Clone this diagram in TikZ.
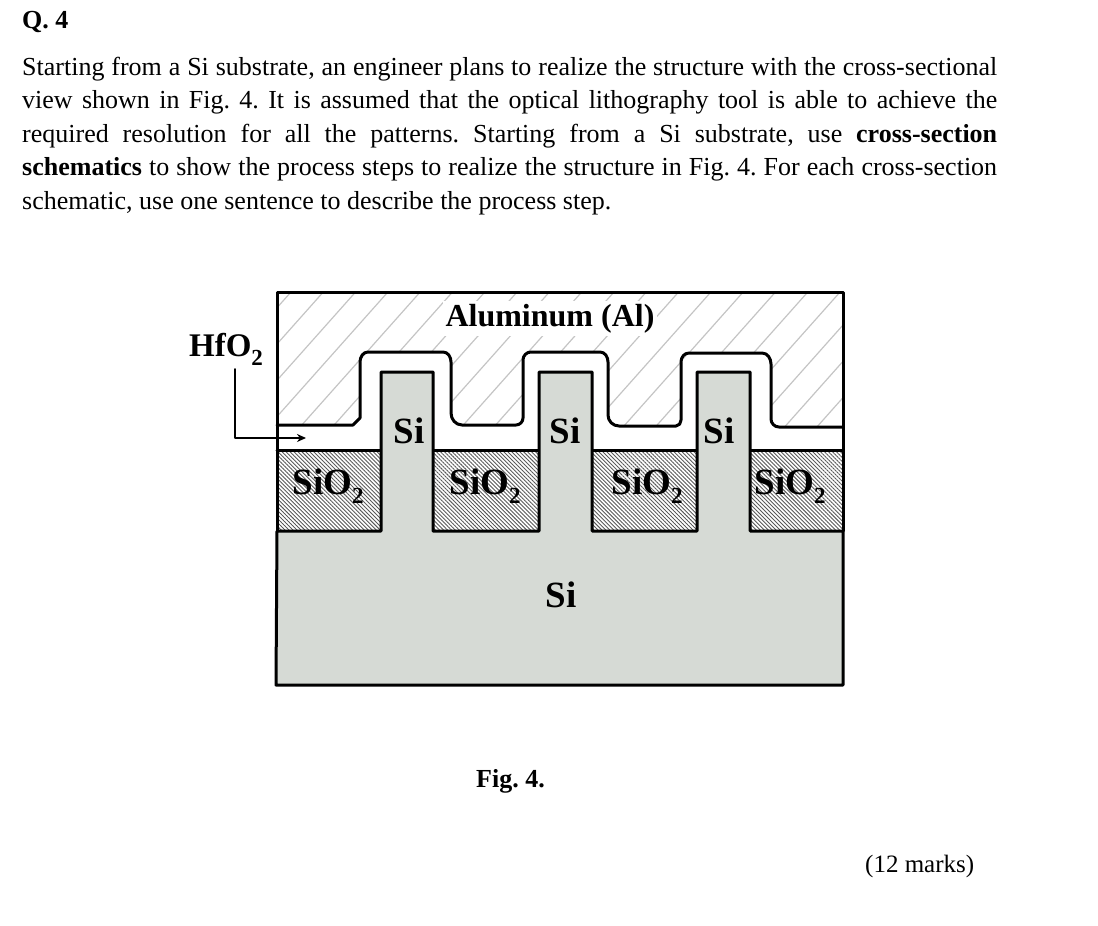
\documentclass[tikz,border=0pt]{standalone}
\usepackage{fontspec}
\setmainfont{Liberation Serif}
\frenchspacing
\usetikzlibrary{arrows.meta,patterns.meta}
\definecolor{sigray}{HTML}{D6DAD5}
\definecolor{hatchgray}{HTML}{C4C4C4}
\newcommand{\bodyline}[1]{\makebox[975pt][s]{#1}}
\newcommand{\subtwo}{\raisebox{-9pt}{\fontsize{23}{23}\selectfont 2}}
\tikzset{
	bodytext/.style={anchor=base west,inner sep=0pt,font=\fontsize{26}{33}\selectfont},
	boldtext/.style={anchor=base west,inner sep=0pt,font=\fontsize{26}{33}\selectfont\bfseries},
	layerlabel/.style={anchor=base,inner sep=0pt,font=\fontsize{37}{40}\selectfont\bfseries},
	hatchline/.style={line width=1.2pt,color=hatchgray},
	oxide/.style={pattern={Lines[angle=-45,distance=2.8pt,line width=.9pt]},pattern color=black!65},
}
\begin{document}
\begin{tikzpicture}[line cap=round,line join=round,>={Stealth[length=9pt,width=8pt]},x=1pt,y=-1pt]
	\useasboundingbox (0,0) rectangle (1098,926);
	\node[boldtext] (qnum) at (22,28) {Q. 4};
	\node[bodytext] (lineone) at (22,75) {\bodyline{Starting from a Si substrate, an engineer plans to realize the structure with the cross-sectional}};
	\node[bodytext] (linetwo) at (22,108.5) {\bodyline{view shown in Fig. 4. It is assumed that the optical lithography tool is able to achieve the}};
	\node[bodytext] (linethree) at (22,142) {\bodyline{required resolution for all the patterns. Starting from a Si substrate, use \textbf{cross-section}}};
	\node[bodytext] (linefour) at (22,175) {\bodyline{\textbf{schematics} to show the process steps to realize the structure in Fig. 4. For each cross-section}};
	\node[bodytext] (linefive) at (22,209) {schematic, use one sentence to describe the process step.};
	\begin{scope}
		\clip (277,292) -- (843,292) -- (843,427) -- (779,427) -- (771,419) -- (771,364) -- (762,353) -- (689,353) -- (681,362) -- (681,420) -- (676,426) -- (619,426) -- (608,415) -- (608,362) -- (600,352) -- (531,352) -- (523,360) -- (523,418) -- (516,425) -- (462,425) -- (451,413) -- (451,362) -- (443,352) -- (368,352) -- (360,362) -- (360,418) -- (353,425) -- (277,425) -- cycle;
		\foreach \n in {0,...,21}
			\draw[hatchline] ({291+32.3*\n},292) -- ++(-178,200);
	\end{scope}
	\draw [line width=3pt] (277,425) -- (353,425) -- (360,418) -- (360,362) to[out=90,in=180] (368,352) -- (443,352) to[out=0,in=90] (451,362) -- (451,413) to[out=-90,in=180] (462,425) -- (516,425) to[out=0,in=-90] (523,418) -- (523,360) to[out=90,in=180] (531,352) -- (600,352) to[out=0,in=90] (608,362) -- (608,415) to[out=-90,in=180] (619,426) -- (676,426) to[out=0,in=-90] (681,420) -- (681,362) to[out=90,in=180] (689,353) -- (762,353) to[out=0,in=90] (771,364) -- (771,419) to[out=-90,in=180] (779,427) -- (843,427);
	\fill[oxide] (277,450) rectangle (381,531);
	\fill[oxide] (433,450) rectangle (539,531);
	\fill[oxide] (592,450) rectangle (697,531);
	\fill[oxide] (750,450) rectangle (843,531);
	\draw [line width=3pt] (277,450) -- (381,450);
	\draw [line width=3pt] (433,450) -- (539,450);
	\draw [line width=3pt] (592,450) -- (697,450);
	\draw [line width=3pt] (750,450) -- (843,450);
	\draw [line width=3pt,fill=sigray] (277,531) -- (381,531) -- (381,372) -- (433,372) -- (433,531) -- (539,531) -- (539,372) -- (592,372) -- (592,531) -- (697,531) -- (697,372) -- (750,372) -- (750,531) -- (843,531) -- (843,685) -- (276,685) -- cycle;
	\draw [line width=3pt] (277,531) -- (277,292) -- (843,292) -- (843,531);
	\node[layerlabel,font=\fontsize{32}{36}\selectfont\bfseries,fill=white,inner sep=3pt] (altext) at (550,326) {Aluminum (Al)};
	\node[layerlabel,font=\fontsize{33}{36}\selectfont\bfseries] (hfotext) at (226,356) {HfO\subtwo};
	\coordinate (hfofoot) at (235,369);
	\coordinate (hfotip) at (306,438);
	\draw [->,line width=2pt] (hfofoot) |- (hfotip);
	\node[layerlabel] (sione) at (409,443) {Si};
	\node[layerlabel] (sitwo) at (565,443) {Si};
	\node[layerlabel] (sithree) at (719,443) {Si};
	\node[layerlabel] (sibase) at (561,607) {Si};
	\node[layerlabel] (oxone) at (328,494) {SiO\subtwo};
	\node[layerlabel] (oxtwo) at (485,494) {SiO\subtwo};
	\node[layerlabel] (oxthree) at (647,494) {SiO\subtwo};
	\node[layerlabel] (oxfour) at (790,494) {SiO\subtwo};
	\node[boldtext] (figcap) at (476,787) {Fig. 4.};
	\node[bodytext,font=\fontsize{25}{33}\selectfont] (marks) at (865,872) {(12 marks)};
\end{tikzpicture}
\end{document}
